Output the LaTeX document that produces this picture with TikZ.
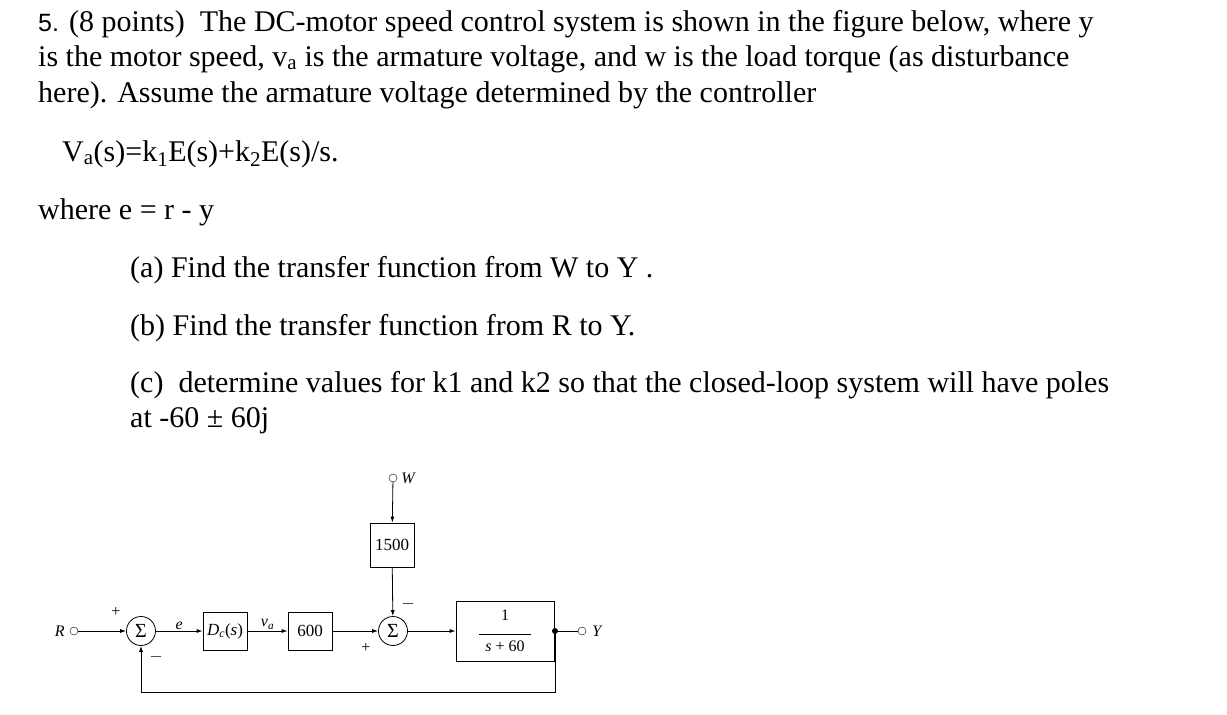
\documentclass[tikz,border=0pt]{standalone}
\usepackage{fontspec}
\setmainfont{Liberation Serif}
\newfontfamily\arialf{Liberation Sans}
\usetikzlibrary{arrows.meta}
\begin{document}
\begin{tikzpicture}[x=1pt,y=-1pt,
  txt/.style={anchor=base west,inner sep=0pt,font=\fontsize{30}{34}\selectfont},
  blk/.style={draw,thick,inner sep=0pt,font=\fontsize{17}{20}\selectfont},
  sumc/.style={draw,thick,circle,minimum size=29pt,inner sep=0pt,font=\fontsize{20}{22}\selectfont},
  term/.style={draw,circle,minimum size=8pt,inner sep=0pt},
  lab/.style={font=\fontsize{16}{18}\selectfont\itshape,inner sep=1pt},
  sg/.style={font=\fontsize{16}{18}\selectfont,inner sep=1pt},
  ar/.style={thick,-{Latex[length=6pt,width=4pt]}},
  ln/.style={thick}]
\useasboundingbox (0,0) rectangle (1227,715);
\node[txt] (l1) at (38,31) {{\arialf\fontsize{25}{30}\selectfont 5.} (8 points)\ \ The DC-motor speed control system is shown in the figure below, where y};
\node[txt] (l2) at (38,66) {is the motor speed, v\textsubscript{a} is the armature voltage, and w is the load torque (as disturbance};
\node[txt] (l3) at (38,102) {here). Assume the armature voltage determined by the controller};
\node[txt] (l4) at (62,161) {V\textsubscript{a}(s)=k\textsubscript{1}E(s)+k\textsubscript{2}E(s)/s.};
\node[txt] (l5) at (38,219) {where e = r - y};
\node[txt] (l6) at (130,277) {(a)\ Find the transfer function from W to Y .};
\node[txt] (l7) at (130,335) {(b)\ Find the transfer function from R to Y.};
\node[txt] (l8) at (130,392) {(c)\ \ determine values for k1 and k2 so that the closed-loop system will have poles};
\node[txt] (l9) at (130,427) {at -60 ± 60j};
% diagram
\node[term] (R) at (74,631) {};
\node[lab,anchor=east] (Rl) at ([xshift=-4pt]R.west) {R};
\node[sumc] (s1) at (141,631) {Σ};
\node[blk,minimum width=44pt,minimum height=38pt] (dc) at (225,631) {\textit{D\textsubscript{c}}(\textit{s})};
\node[blk,minimum width=44pt,minimum height=38pt] (g6) at (310,631) {600};
\node[sumc] (s2) at (393,631) {Σ};
\node[blk,minimum width=44pt,minimum height=44pt] (g15) at (392,545) {1500};
\node[term] (W) at (393,478) {};
\node[lab,anchor=west] (Wl) at ([xshift=3pt]W.east) {W};
\node[blk,minimum width=98pt,minimum height=60pt,align=center,font=\fontsize{16}{20}\selectfont] (pl) at (505,631) {1\\[-6pt]\rule{52pt}{0.6pt}\\[-3pt]\textit{s} + 60};
\coordinate (br) at (555,631);
\fill (br) circle (3pt);
\node[term] (Y) at (582,631) {};
\node[lab,anchor=west] (Yl) at ([xshift=5pt]Y.east) {Y};
\coordinate (fb) at (555,692);
\coordinate (fb2) at (141,692);
\draw[ar] (R) -- (s1);
\draw[ar] (s1) -- node[lab,above] (el) {e} (dc);
\draw[ar] (dc) -- node[lab,above] (val) {\textit{v\textsubscript{a}}} (g6);
\draw[ar] (g6) -- (s2);
\draw[ar] (W) -- (g15);
\draw[ar] (g15) -- (s2);
\draw[ar] (s2) -- (pl);
\draw[ln] (pl) -- (br);
\draw[ln] (br) -- (Y);
\draw[ar] (br) -- (fb) -- (fb2) -- (s1);
\node[sg] (p1) at (116,612) {+};
\node[sg] (m1) at (156,657) {$-$};
\node[sg] (m2) at (408,604) {$-$};
\node[sg] (p2) at (366,648) {+};
\end{tikzpicture}
\end{document}
